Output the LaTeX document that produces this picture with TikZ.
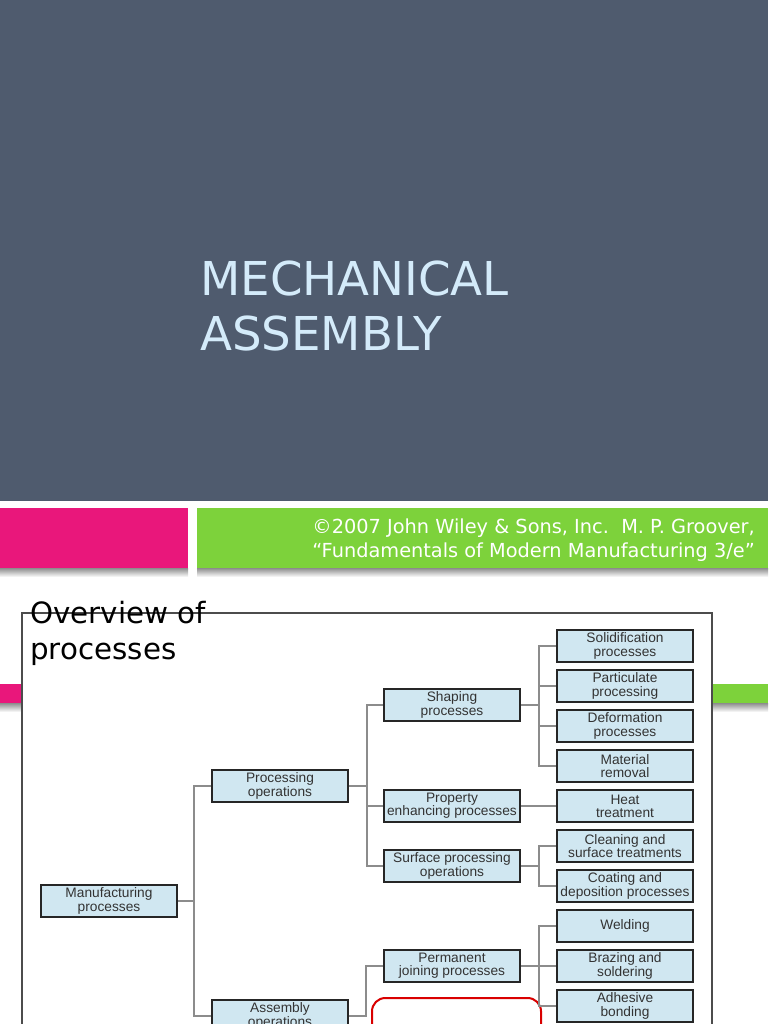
\documentclass[tikz,border=0pt]{standalone}
\usepackage{fontspec}
\setmainfont{DejaVu Sans}
\newfontfamily\chartfont{Liberation Sans}
\definecolor{slatecolor}{HTML}{4F5B6E}
\definecolor{titlecolor}{HTML}{D4EBFA}
\definecolor{pinkcolor}{HTML}{E9177B}
\definecolor{greencolor}{HTML}{7DD23B}
\definecolor{boxcolor}{HTML}{D0E7F1}
\definecolor{linecolor}{HTML}{8C8C8C}
\tikzset{
  titletext/.style={anchor=base west,inner sep=0pt,text=titlecolor,
      font=\fontsize{35}{40}\selectfont},
  creditline/.style={anchor=base east,inner sep=0pt,text=white,
      font=\fontsize{14.5}{17}\selectfont},
  headline/.style={anchor=base west,inner sep=0pt,text=black,
      font=\fontsize{22}{26}\selectfont},
  procbox/.style={draw=black!85,line width=1.6pt,fill=boxcolor,
      minimum width=102.5pt,minimum height=23.8pt,inner sep=0pt,align=center,
      text=black!80,font=\chartfont\fontsize{10.3}{9.9}\selectfont},
  link/.style={draw=linecolor,line width=0.8pt},
  highlight/.style={draw=red!85!black,line width=1.5pt,fill=white,
      rounded corners=10pt,minimum width=126.75pt,minimum height=48pt},
}
\newcommand{\procbox}[3]{
    % Process Box (Light Blue, Framed)
    % \procbox{name}{position}{text}
    % example:
    %   \procbox{weld}{(625,926)}{Welding}
    \node[procbox] (#1) at #2 {#3};
}
\newcommand{\slidebars}[2]{
    % Pink and Green Header Bars with Shadow
    % \slidebars{top}{bottom}
    \fill[pinkcolor] (0,#1) rectangle (188,#2);
    \fill[greencolor] (197,#1) rectangle (768,#2);
    \shade[top color=black!45,bottom color=white] (0,#2) rectangle (188,#2+9);
    \shade[top color=black!45,bottom color=white] (197,#2) rectangle (768,#2+9);
}

\begin{document}
\begin{tikzpicture}[x=0.75pt,y=-0.75pt]
  \useasboundingbox (0,0) rectangle (768,1024);
  \clip (0,0) rectangle (768,1024);

  % title slide
  \fill[slatecolor] (0,0) rectangle (768,501);
  \node[titletext] (titleOne) at (200,295) {MECHANICAL};
  \node[titletext] (titleTwo) at (200,350) {ASSEMBLY};
  \slidebars{508}{568}
  \node[creditline] (creditOne) at (755,533)
      {\textcopyright2007 John Wiley \& Sons, Inc.\ \ M. P. Groover,};
  \node[creditline] (creditTwo) at (755,557)
      {\textquotedblleft Fundamentals of Modern Manufacturing 3/e\textquotedblright};

  % second slide
  \slidebars{684}{703}
  \draw[draw=black!70,line width=1.1pt,fill=white] (22,613) rectangle (712,1060);
  \node[headline] (headOne) at (30,623) {Overview of};
  \node[headline] (headTwo) at (30,659) {processes};

  % process boxes
  \procbox{manuf}{(109,901)}{Manufacturing\\processes}
  \procbox{procop}{(280,786)}{Processing\\operations}
  \procbox{assyop}{(280,1016)}{Assembly\\operations}
  \procbox{shaping}{(452,705)}{Shaping\\processes}
  \procbox{property}{(452,806)}{Property\\enhancing processes}
  \procbox{surface}{(452,866)}{Surface processing\\operations}
  \procbox{permanent}{(452,966)}{Permanent\\joining processes}
  \procbox{solid}{(625,646)}{Solidification\\processes}
  \procbox{partic}{(625,686)}{Particulate\\processing}
  \procbox{deform}{(625,726)}{Deformation\\processes}
  \procbox{matrem}{(625,766)}{Material\\removal}
  \procbox{heat}{(625,806)}{Heat\\treatment}
  \procbox{clean}{(625,846)}{Cleaning and\\surface treatments}
  \procbox{coating}{(625,886)}{Coating and\\deposition processes}
  \procbox{welding}{(625,926)}{Welding}
  \procbox{brazing}{(625,966)}{Brazing and\\soldering}
  \procbox{adhesive}{(625,1006)}{Adhesive\\bonding}
  \node[highlight] (mechassy) at (456.5,1030) {};

  % connectors
  \coordinate (forkA) at (194,901);
  \coordinate (forkB) at (367,786);
  \coordinate (forkC) at (539,705);
  \coordinate (forkD) at (539,866);
  \coordinate (forkE) at (366,1016);
  \coordinate (forkF) at (539,966);
  \draw[link] (manuf.east) -- (forkA);
  \foreach \n in {procop,assyop}
    \draw[link] (forkA) |- (\n.west);
  \draw[link] (procop.east) -- (forkB);
  \foreach \n in {shaping,property,surface}
    \draw[link] (forkB) |- (\n.west);
  \draw[link] (shaping.east) -- (forkC);
  \foreach \n in {solid,partic,deform,matrem}
    \draw[link] (forkC) |- (\n.west);
  \draw[link] (property.east) -- (heat.west);
  \draw[link] (surface.east) -- (forkD);
  \foreach \n in {clean,coating}
    \draw[link] (forkD) |- (\n.west);
  \draw[link] (assyop.east) -- (forkE) |- (permanent.west);
  \draw[link] (permanent.east) -- (forkF);
  \foreach \n in {welding,brazing,adhesive}
    \draw[link] (forkF) |- (\n.west);
\end{tikzpicture}
\end{document}
